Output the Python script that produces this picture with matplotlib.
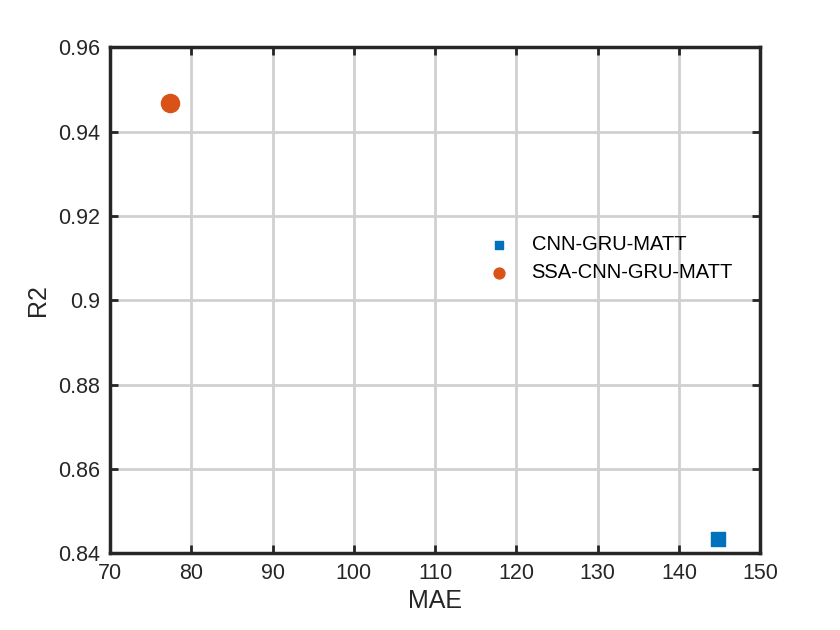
import matplotlib
matplotlib.use("Agg")
import matplotlib.pyplot as plt

plt.rcParams['font.family'] = ['Liberation Sans', 'DejaVu Sans']

models = ["CNN-GRU-MATT", "SSA-CNN-GRU-MATT"]
mae = [144.8, 77.4]
r2 = [0.8434, 0.9467]
colors = ["#0072BD", "#D95319"]
markers = ["s", "o"]
sizes = [110, 170]

fig = plt.figure(figsize=(8.4, 6.3), dpi=100)
ax = fig.add_axes([0.131, 0.122, 0.774, 0.803])
for m, x, y, c, mk, s in zip(models, mae, r2, colors, markers, sizes):
    ax.scatter([x], [y], marker=mk, s=s, color=c, label=m, zorder=3)

ax.set_xlim(70, 150)
ax.set_ylim(0.84, 0.96)
ax.set_xticks(range(70, 151, 10))
ax.set_yticks([0.84, 0.86, 0.88, 0.90, 0.92, 0.94, 0.96])
ax.set_yticklabels(["0.84", "0.86", "0.88", "0.9", "0.92", "0.94", "0.96"])
ax.grid(True, color="#d0d0d0", linewidth=2)
ax.set_axisbelow(True)
for sp in ax.spines.values():
    sp.set_linewidth(2.5)
    sp.set_color("#262626")
ax.tick_params(direction="in", top=True, right=True, width=2, length=6,
               labelsize=15.5, colors="#262626", pad=7)
ax.set_xlabel("MAE", fontsize=18, color="#262626", labelpad=4)
ax.set_ylabel("R2", fontsize=18, color="#262626", labelpad=6)
leg = ax.legend(loc="upper left", bbox_to_anchor=(0.54, 0.665), frameon=False,
                fontsize=14.5, markerscale=0.6, handletextpad=0.6, labelspacing=0.45)
fig.savefig("out.png", dpi=100)
